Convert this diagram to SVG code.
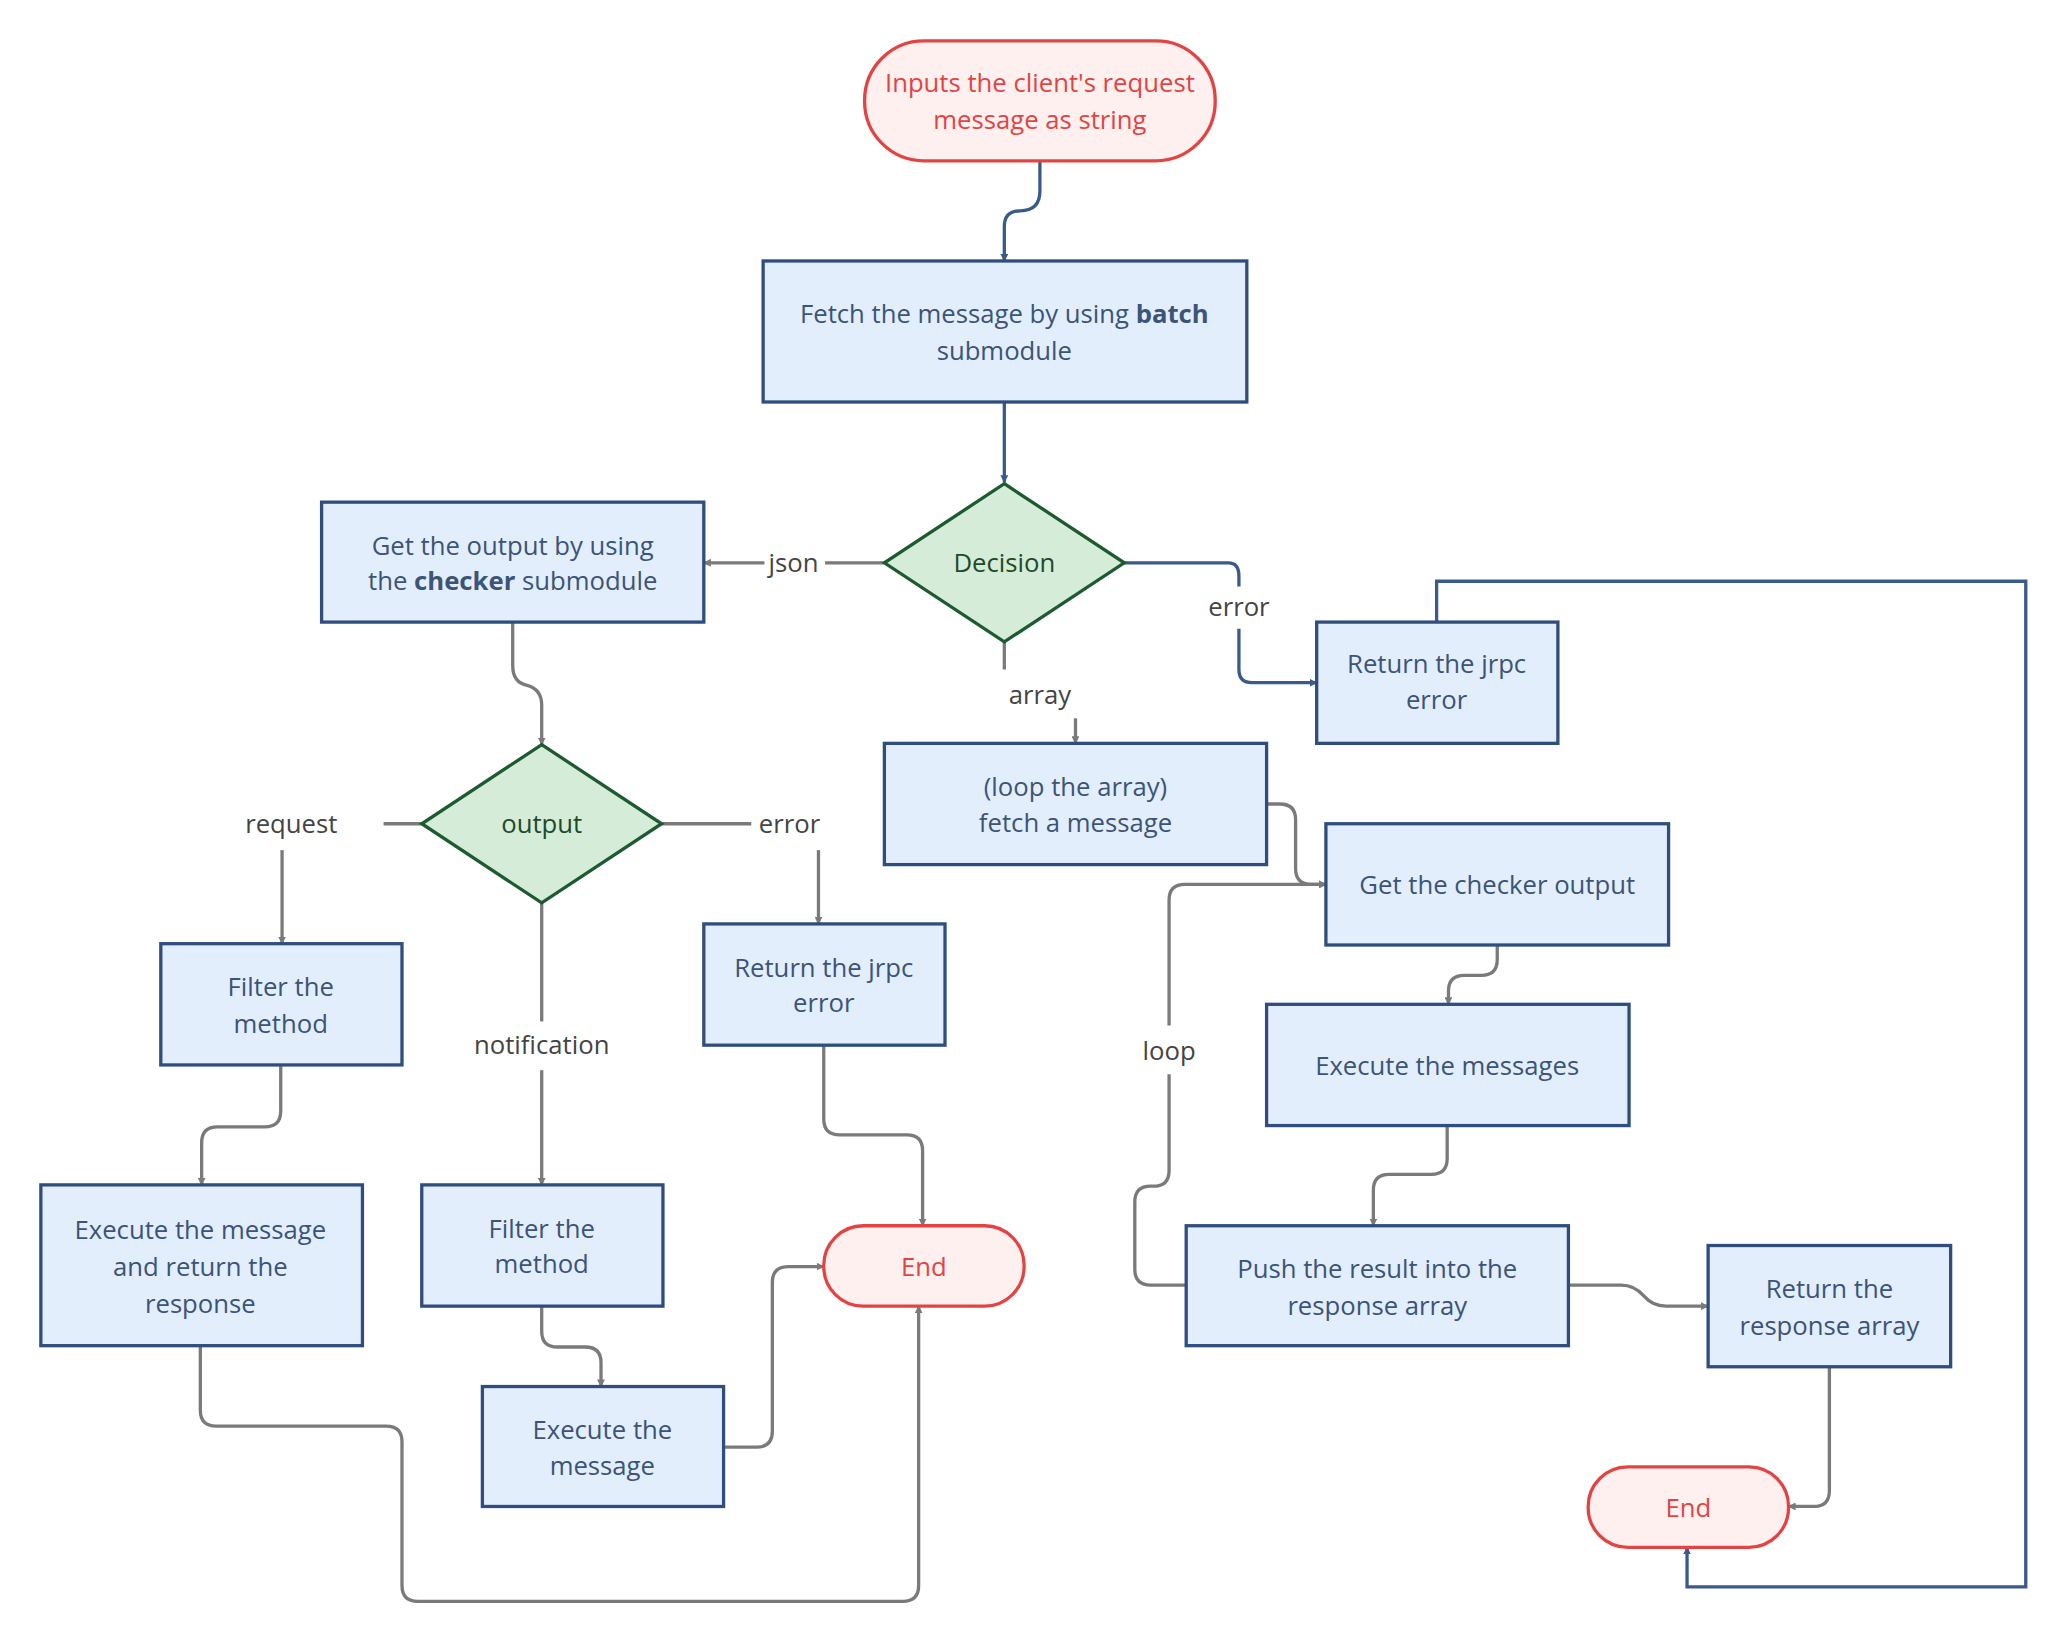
<svg xmlns="http://www.w3.org/2000/svg" width="2056" height="1634" viewBox="0 0 2056 1634">
<defs>
<style>
.box{fill:#e3eefc;stroke:#2f4e7e;stroke-width:2.5}
.term{fill:#fff0f0;stroke:#e24444;stroke-width:2.5}
.dia{fill:#d5ecd9;stroke:#1e5a30;stroke-width:2.5}
.t{font-family:"Open Sans","Noto Sans",sans-serif;font-size:19.5px;fill:#3b5478;text-anchor:middle}
.tr{fill:#e24444}
.tg{fill:#1e4a28}
.lb{font-family:"Open Sans","Noto Sans",sans-serif;font-size:19.5px;fill:#444;text-anchor:middle}
.g{fill:none;stroke:#7a7a7a;stroke-width:2.5}
.b{fill:none;stroke:#3a5a8a;stroke-width:2.5}
</style>
<marker id="ag" viewBox="0 0 10 10" refX="9" refY="5" markerWidth="6" markerHeight="6" markerUnits="userSpaceOnUse" orient="auto"><path d="M0 0L10 5L0 10z" fill="#7a7a7a"/></marker>
<marker id="ab" viewBox="0 0 10 10" refX="9" refY="5" markerWidth="6" markerHeight="6" markerUnits="userSpaceOnUse" orient="auto"><path d="M0 0L10 5L0 10z" fill="#3a5a8a"/></marker>
</defs>
<rect width="2056" height="1634" fill="#fff"/>
<g transform="scale(1.318)">
<g id="connectors">
<path class="b" d="M789 122V145Q789 160 774 160Q762 160 762 172V198" marker-end="url(#ab)" style="marker-end:url(#ab)"/>
<path class="b" d="M762 305V366" style="marker-end:url(#ab)"/>
<path class="g" d="M671 427H626M580 427H534" style="marker-end:url(#ag)"/>
<path class="b" d="M853 427H932Q940 427 940 437V445M940 477V508Q940 518 950 518H999" style="marker-end:url(#ab)"/>
<path class="g" d="M762 487V508"/>
<path class="g" d="M816 545V564" style="marker-end:url(#ag)"/>
<path class="b" d="M1090 472V441H1537V1204H1280V1174" style="marker-end:url(#ab)"/>
<path class="g" d="M389 472V505Q389 518 400 520Q411 523 411 535V565" style="marker-end:url(#ag)"/>
<path class="g" d="M320 625H291"/>
<path class="g" d="M214 645V716" style="marker-end:url(#ag)"/>
<path class="g" d="M502 625H570"/>
<path class="g" d="M621 645V701" style="marker-end:url(#ag)"/>
<path class="g" d="M411 685V775"/>
<path class="g" d="M411 812V899" style="marker-end:url(#ag)"/>
<path class="g" d="M213 808V843Q213 855 201 855H165Q153 855 153 867V899" style="marker-end:url(#ag)"/>
<path class="g" d="M152 1021V1070Q152 1082 164 1082H293Q305 1082 305 1094V1203Q305 1215 317 1215H685Q697 1215 697 1203V991" style="marker-end:url(#ag)"/>
<path class="g" d="M411 991V1010Q411 1022 423 1022H444Q456 1022 456 1034V1052" style="marker-end:url(#ag)"/>
<path class="g" d="M549 1098H574Q586 1098 586 1086V973Q586 961 598 961H625" style="marker-end:url(#ag)"/>
<path class="g" d="M625 793V849Q625 861 637 861H688Q700 861 700 873V930" style="marker-end:url(#ag)"/>
<path class="g" d="M961 610H971Q983 610 983 622V659Q983 671 995 671H1006" style="marker-end:url(#ag)"/>
<path class="g" d="M1136 717V728Q1136 740 1124 740H1111Q1099 740 1099 752V762" style="marker-end:url(#ag)"/>
<path class="g" d="M1098 854V879Q1098 891 1086 891H1054Q1042 891 1042 903V930" style="marker-end:url(#ag)"/>
<path class="g" d="M900 975H873Q861 975 861 963V912Q861 900 873 900H875Q887 900 887 888V815M887 778V683Q887 671 899 671H1006" style="marker-end:url(#ag)"/>
<path class="g" d="M1190 975H1230Q1240 975 1247 983Q1254 991 1264 991H1296" style="marker-end:url(#ag)"/>
<path class="g" d="M1388 1037V1131Q1388 1143 1376 1143H1357" style="marker-end:url(#ag)"/>
<text class="lb" x="602" y="434">json</text>
<text class="lb" x="940" y="467">error</text>
<text class="lb" x="789" y="534">array</text>
<text class="lb" x="221" y="632">request</text>
<text class="lb" x="599" y="632">error</text>
<text class="lb" x="411" y="800">notification</text>
<text class="lb" x="887" y="804">loop</text>
</g>
<g id="start"><rect class="term" x="656" y="31" width="266" height="91" rx="45"/><text class="t tr" x="789" y="70">Inputs the client's request</text><text class="t tr" x="789" y="98">message as string</text></g>
<g id="fetch"><rect class="box" x="579" y="198" width="367" height="107"/><text class="t" x="762" y="245">Fetch the message by using <tspan font-weight="bold">batch</tspan></text><text class="t" x="762" y="273">submodule</text></g>
<g id="decision"><path class="dia" d="M762 367L853 427L762 487L671 427z"/><text class="t tg" x="762" y="434">Decision</text></g>
<g id="jrpc1"><rect class="box" x="999" y="472" width="183" height="92"/><text class="t" x="1090" y="511">Return the jrpc</text><text class="t" x="1090" y="538">error</text></g>
<g id="getout"><rect class="box" x="244" y="381" width="290" height="91"/><text class="t" x="389" y="421">Get the output by using</text><text class="t" x="389" y="448">the <tspan font-weight="bold">checker</tspan> submodule</text></g>
<g id="output"><path class="dia" d="M411 565L502 625L411 685L320 625z"/><text class="t tg" x="411" y="632">output</text></g>
<g id="filter1"><rect class="box" x="122" y="716" width="183" height="92"/><text class="t" x="213" y="756">Filter the</text><text class="t" x="213" y="784">method</text></g>
<g id="exec1"><rect class="box" x="31" y="899" width="244" height="122"/><text class="t" x="152" y="940">Execute the message</text><text class="t" x="152" y="968">and return the</text><text class="t" x="152" y="996">response</text></g>
<g id="filter2"><rect class="box" x="320" y="899" width="183" height="92"/><text class="t" x="411" y="939">Filter the</text><text class="t" x="411" y="966">method</text></g>
<g id="exec2"><rect class="box" x="366" y="1052" width="183" height="91"/><text class="t" x="457" y="1092">Execute the</text><text class="t" x="457" y="1119">message</text></g>
<g id="end1"><rect class="term" x="625" y="930" width="152" height="61" rx="30"/><text class="t tr" x="701" y="968">End</text></g>
<g id="jrpc2"><rect class="box" x="534" y="701" width="183" height="92"/><text class="t" x="625" y="741">Return the jrpc</text><text class="t" x="625" y="768">error</text></g>
<g id="loopfetch"><rect class="box" x="671" y="564" width="290" height="92"/><text class="t" x="816" y="604">(loop the array)</text><text class="t" x="816" y="631">fetch a message</text></g>
<g id="checker"><rect class="box" x="1006" y="625" width="260" height="92"/><text class="t" x="1136" y="678">Get the checker output</text></g>
<g id="execm"><rect class="box" x="961" y="762" width="275" height="92"/><text class="t" x="1098" y="816">Execute the messages</text></g>
<g id="push"><rect class="box" x="900" y="930" width="290" height="91"/><text class="t" x="1045" y="970">Push the result into the</text><text class="t" x="1045" y="998">response array</text></g>
<g id="retarr"><rect class="box" x="1296" y="945" width="184" height="92"/><text class="t" x="1388" y="985">Return the</text><text class="t" x="1388" y="1013">response array</text></g>
<g id="end2"><rect class="term" x="1205" y="1113" width="152" height="61" rx="30"/><text class="t tr" x="1281" y="1151">End</text></g>
</g>
</svg>
